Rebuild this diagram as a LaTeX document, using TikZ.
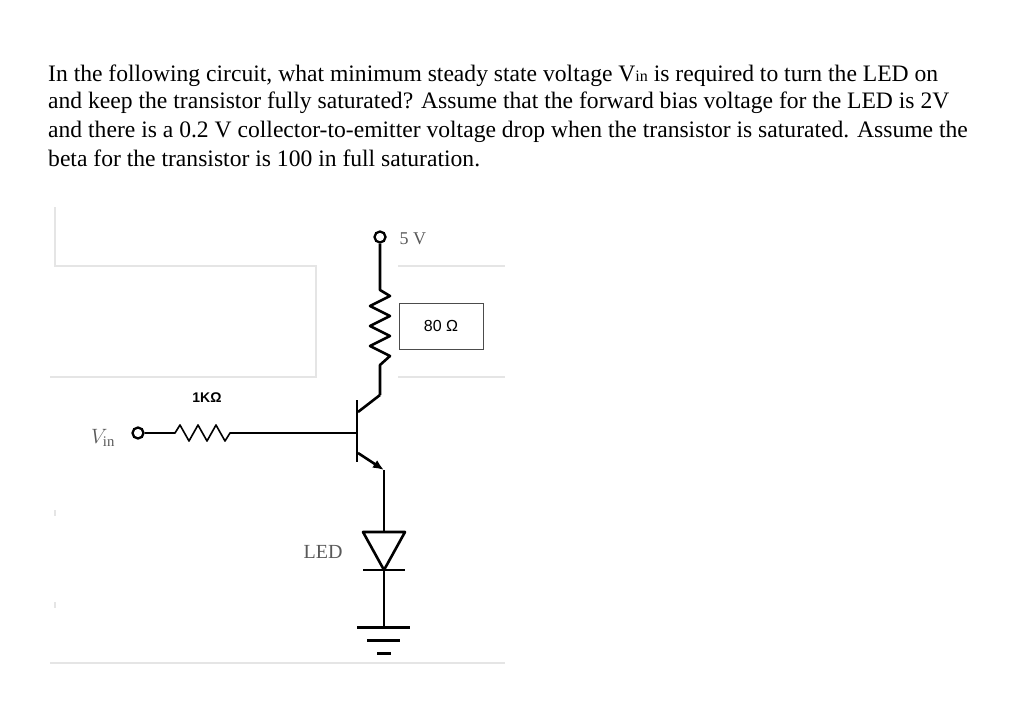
\documentclass[tikz,border=0pt]{standalone}
\usepackage{fontspec}
\setmainfont{Liberation Serif}
\newfontfamily\sansf{Liberation Sans}
\usetikzlibrary{arrows.meta}
\begin{document}
\begin{tikzpicture}[x=1pt,y=-1pt,
  wire/.style={line width=2.6pt,black},
  thin wire/.style={line width=1.6pt,black},
  faint/.style={draw=black!10,line width=1.2pt},
  qtext/.style={anchor=base west,inner sep=0pt,font=\fontsize{23.6}{26}\selectfont},
  term/.style={circle,draw,line width=2.3pt,minimum size=11pt,inner sep=0pt}]
\useasboundingbox (0,0) rectangle (1024,711);
% question text
\node[qtext] (q1) at (48,82) {In the following circuit, what minimum steady state voltage V{\fontsize{16}{16}\selectfont in} is required to turn the LED on};
\node[qtext] (q2) at (48,109) {and keep the transistor fully saturated? Assume that the forward bias voltage for the LED is 2V};
\node[qtext] (q3) at (48,138) {and there is a 0.2 V collector-to-emitter voltage drop when the transistor is saturated. Assume the};
\node[qtext] (q4) at (48,167) {beta for the transistor is 100 in full saturation.};
% faint background lines
\draw[faint] (55,207) -- (55,266) -- (316,266) -- (316,377) -- (50,377);
\draw[faint] (398,266) -- (505,266);
\draw[faint] (398,377) -- (505,377);
\draw[faint] (50,663) -- (505,663);
\draw[faint] (55,510) -- (55,516);
\draw[faint] (55,602) -- (55,608);
% nodes
\node[term] (vcc) at (380,237) {};
\node[anchor=west,text=black!65,font=\fontsize{18}{18}\selectfont] (lbl5v) at (396,239) {5 V};
\node[draw=black!70,line width=0.8pt,minimum width=84pt,minimum height=46pt,font=\sansf\fontsize{16}{16}\selectfont] (rbox) at (441,326) {80 Ω};
\node[term] (vin) at (138,433) {};
\node[text=black!65,font=\fontsize{21}{21}\selectfont] (vinl) at (103,438) {$V_{\mathrm{in}}$};
\node[font=\sansf\bfseries\fontsize{14}{14}\selectfont] (r1l) at (207,398) {1KΩ};
\node[text=black!65,font=\fontsize{20}{20}\selectfont] (ledl) at (323,552) {LED};
\coordinate (rtop) at (380,290);
\coordinate (coll) at (380,395);
\coordinate (base) at (357,433);
\coordinate (emit) at (384,470);
\coordinate (dtop) at (384,532);
\coordinate (dbot) at (384,570);
\coordinate (gnd) at (384,627);
% collector resistor
\draw[wire,line join=round] (vcc.south) -- (rtop) -- ++(10,6) -- ++(-20,10) -- ++(20,10) -- ++(-20,10) -- ++(20,10) -- ++(-20,10) -- ++(20,10) -- ++(-10,9) -- (coll);
% transistor
\draw[line width=2.4pt] (357,400) -- (357,462);
\draw[wire] (coll) -- (358,412);
\draw[wire,-{Latex[length=11pt,width=9pt]}] (358,453) -- (emit);
\draw[wire] (emit) -- (dtop);
% base resistor
\draw[thin wire,line join=round] (vin.east) -- (175,433) -- ++(5,-8) -- ++(9,16) -- ++(9,-16) -- ++(9,16) -- ++(9,-16) -- ++(9,16) -- ++(5,-8) -- (base);
% diode
\draw[wire,line join=round] (363,532) -- (405,532) -- (dbot) -- cycle;
\draw[wire] (363,570) -- (405,570);
\draw[wire] (dbot) -- (gnd);
% ground
\draw[line width=3pt] (357,627) -- (410,627);
\draw[line width=3pt] (367,640) -- (400,640);
\draw[line width=3pt] (377,653) -- (391,653);
\end{tikzpicture}
\end{document}
